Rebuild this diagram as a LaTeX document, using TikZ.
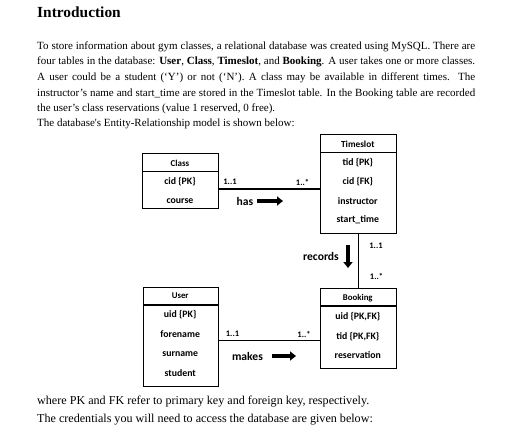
\documentclass[tikz,border=0pt]{standalone}
\usepackage{fontspec}
\setmainfont{Liberation Serif}
\newfontfamily\diagfont{Carlito}
\usetikzlibrary{arrows.meta}
\tikzset{
  body/.style={anchor=base west, inner sep=0pt, font=\fontsize{11}{13}\selectfont},
  foot/.style={anchor=base west, inner sep=0pt, font=\fontsize{12.1}{14}\selectfont},
  ent/.style={draw, line width=1.1pt, minimum width=75.5pt, inner sep=0pt, anchor=north west},
  attr/.style={inner sep=0pt, font=\diagfont\bfseries\fontsize{9.8}{10}\selectfont},
  ttl/.style={inner sep=0pt, font=\diagfont\bfseries\fontsize{8.8}{10}\selectfont},
  mult/.style={inner sep=0pt, font=\diagfont\bfseries\fontsize{8.5}{9}\selectfont},
  rel/.style={inner sep=0pt, font=\diagfont\bfseries\fontsize{11.6}{12}\selectfont},
  conn/.style={line width=1.1pt},
  bigarrow/.style={line width=3.6pt, -{Triangle[length=6pt,width=9pt]}},
}
\begin{document}
\begin{tikzpicture}[x=1pt,y=-1pt]
\fill[white] (0,0) rectangle (514,428);
\useasboundingbox (0,0) rectangle (514,428);

% heading and paragraph
\node[body, font=\fontsize{15.4}{17}\selectfont\bfseries] (head) at (37,17.5) {Introduction};
\node[body] (l1) at (37,49.5) {\makebox[438pt][s]{To store information about gym classes, a relational database was created using MySQL. There are}};
\node[body] (l2) at (37,65) {\makebox[438pt][s]{four tables in the database: \textbf{User}, \textbf{Class}, \textbf{Timeslot}, and \textbf{Booking}. A user takes one or more classes.}};
\node[body] (l3) at (37,80.5) {\makebox[438pt][s]{A user could be a student (‘Y’) or not (‘N’). A class may be available in different times. The}};
\node[body] (l4) at (37,96) {\makebox[438pt][s]{instructor’s name and start\_time are stored in the Timeslot table. In the Booking table are recorded}};
\node[body] (l5) at (37,111.3) {the user’s class reservations (value 1 reserved, 0 free).};
\node[body] (l6) at (37,126.7) {The database\textquotesingle s Entity-Relationship model is shown below:};

% entities
\node[ent, minimum height=55.6pt] (class) at (142.3,152.7) {};
\draw[conn] (class.west |- 0,171.7) -- (class.east |- 0,171.7);
\node[ttl, font=\diagfont\bfseries\fontsize{9}{10}\selectfont] (classT) at (180,163) {Class};
\node[attr] (classA1) at (180,182) {cid \{PK\}};
\node[attr] (classA2) at (180,201) {course};

\node[ent, minimum height=98.7pt] (ts) at (320,134) {};
\draw[conn] (ts.west |- 0,152.3) -- (ts.east |- 0,152.3);
\node[ttl, font=\diagfont\bfseries\fontsize{9.3}{10}\selectfont] (tsT) at (357.8,144.5) {Timeslot};
\node[attr] (tsA1) at (357.8,162.5) {tid \{PK\}};
\node[attr] (tsA2) at (357.8,182) {cid \{FK\}};
\node[attr] (tsA3) at (357.8,201) {instructor};
\node[attr] (tsA4) at (357.8,220) {start\_time};

\node[ent, minimum height=99.3pt] (user) at (142.5,286.7) {};
\draw[conn] (user.west |- 0,305) -- (user.east |- 0,305);
\node[ttl] (userT) at (180.2,296) {User};
\node[attr] (userA1) at (180.2,315) {uid \{PK\}};
\node[attr] (userA2) at (180.2,334.5) {forename};
\node[attr] (userA3) at (180.2,354) {surname};
\node[attr] (userA4) at (180.2,373) {student};

\node[ent, minimum height=80pt] (book) at (320,288.3) {};
\draw[conn] (book.west |- 0,306) -- (book.east |- 0,306);
\node[ttl] (bookT) at (357.8,298.3) {Booking};
\node[attr] (bookA1) at (357.8,316.7) {uid \{PK,FK\}};
\node[attr] (bookA2) at (357.8,336.7) {tid \{PK,FK\}};
\node[attr] (bookA3) at (357.8,355) {reservation};

% relationships
\draw[conn] (class.east |- 0,189) -- (ts.west |- 0,189);
\node[mult] (m1) at (230,181.7) {1..1};
\node[mult] (m2) at (302.5,182) {1..*};
\node[rel] (has) at (245,201) {has};
\coordinate (hasA) at (257,201);
\coordinate (hasB) at (283,201);
\draw[bigarrow] (hasA) -- (hasB);

\draw[conn] (ts.south) -- (book.north);
\node[mult] (m3) at (376,246) {1..1};
\node[mult] (m4) at (376.5,276.7) {1..*};
\node[rel] (rec) at (321,256) {records};
\coordinate (recA) at (348,244.5);
\coordinate (recB) at (348,268);
\draw[bigarrow] (recA) -- (recB);

\draw[conn] (user.east |- 0,340.7) -- (book.west |- 0,340.7);
\node[mult] (m5) at (232.5,334) {1..1};
\node[mult] (m6) at (304,334) {1..*};
\node[rel] (makes) at (247.5,356) {makes};
\coordinate (mkA) at (271.5,356);
\coordinate (mkB) at (296,356);
\draw[bigarrow] (mkA) -- (mkB);

% trailing text
\node[foot] (b1) at (37,404.5) {where PK and FK refer to primary key and foreign key, respectively.};
\node[foot] (b2) at (37,422.3) {The credentials you will need to access the database are given below:};
\end{tikzpicture}
\end{document}
